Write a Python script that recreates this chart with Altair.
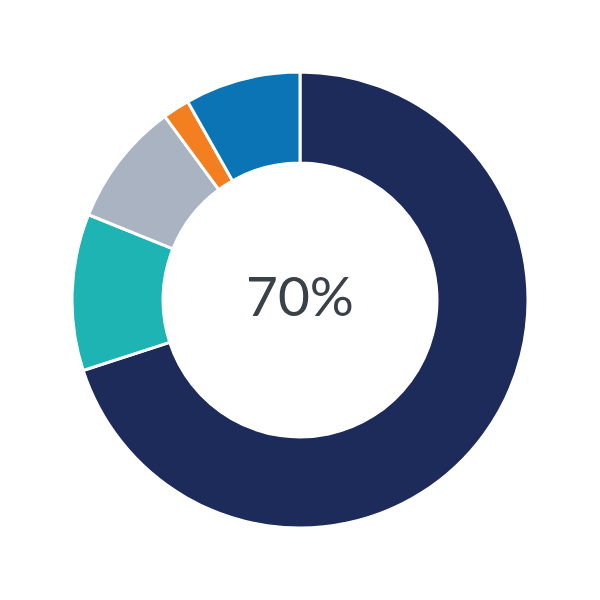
import altair as alt
import pandas as pd

categories = ["A", "B", "C", "D", "E"]
values = [70, 11.1, 8.8, 1.9, 8.2]
colors = ["#1c2b5a", "#1fb4b4", "#a9b3c2", "#f47f20", "#0b74b5"]
center_label = "70%"

df = pd.DataFrame({"cat": categories, "value": values, "order": list(range(len(categories)))})

W = 584
H = 584

arc = alt.Chart(df).mark_arc(
    innerRadius=137, outerRadius=228, stroke="white", strokeWidth=3
).encode(
    theta=alt.Theta("value:Q", stack=True),
    color=alt.Color("cat:N", scale=alt.Scale(domain=categories, range=colors), legend=None),
    order=alt.Order("order:Q"),
)

text = alt.Chart(pd.DataFrame({"t": [center_label]})).mark_text(
    font="Lato", fontSize=55, color="#3a4149", align="center", baseline="middle"
).encode(
    text="t:N",
    x=alt.value(W / 2),
    y=alt.value(H / 2 - 1),
)

chart = alt.layer(arc, text).properties(
    width=W, height=H, autosize=alt.AutoSizeParams(type="none"), padding=0
).configure_view(stroke=None)

chart.save("out.html", embed_options={"renderer": "svg", "actions": False})
